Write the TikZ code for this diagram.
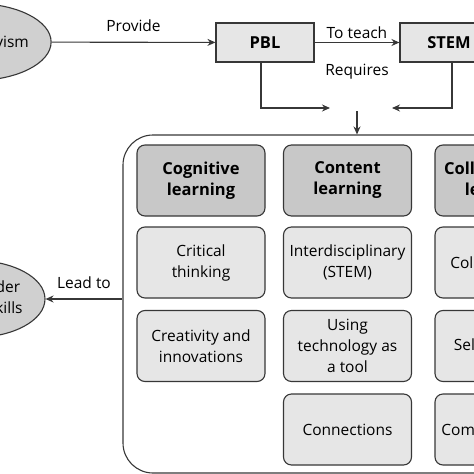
\documentclass[tikz,border=0pt]{standalone}
\usepackage{fontspec}
\setmainfont{Open Sans}
\usepackage{tikz}
\usetikzlibrary{calc,shapes,positioning}
\usetikzlibrary{arrows.meta}
\tikzset{>={Stealth[width=7pt,length=8pt]}}
\definecolor{lineg}{RGB}{55,55,55}
\definecolor{hdrg}{RGB}{200,200,200}
\definecolor{cellg}{RGB}{230,230,230}
\definecolor{ellg}{RGB}{208,208,208}

\begin{document}
\begin{tikzpicture}[x=1pt,y=-1pt,font=\fontsize{15.5}{21}\selectfont]
          \tikzstyle{enode} = [draw=lineg, line width=1.1pt, fill=ellg, ellipse, minimum width=142pt, minimum height=77pt, inner sep=0pt, align=center]
          \tikzstyle{tnode} = [draw=lineg, line width=1.1pt, fill=cellg, rectangle, minimum width=98pt, minimum height=39pt, font=\fontsize{16.5}{21}\selectfont\bfseries]
          \tikzstyle{hdr} = [draw=lineg, line width=1.1pt, fill=hdrg, rectangle, rounded corners=8pt, minimum width=128pt, minimum height=71pt, align=center, font=\fontsize{16.5}{21}\selectfont\bfseries]
          \tikzstyle{cell} = [draw=lineg, line width=1.1pt, fill=cellg, rectangle, rounded corners=8pt, minimum width=128pt, minimum height=71pt, align=center, inner sep=1pt, font=\fontsize{15.5}{21}\selectfont]
          \tikzstyle{link} = [draw=lineg, line width=1.1pt]
          \useasboundingbox (0,0) rectangle (474,474);
          \clip (0,0) rectangle (474,474);

          \node[enode] (cons) at (-25, 42) {Constructivism};
          \node[tnode] (pbl) at (265, 42.5) {PBL};
          \node[tnode] (stem) at (449, 42.5) {STEM};
          \node (req) at (357, 72) {Requires};
          \coordinate (jl) at (330, 108);
          \coordinate (jr) at (392, 108);
          \coordinate (jd) at (357, 111);

          % outer frame
          \node[draw=lineg, line width=1.1pt, rectangle, rounded corners=30pt, minimum width=480pt, minimum height=338pt, inner sep=0pt] (frame) at (363, 304) {};

          \node[hdr] (cog) at (201, 180.5) {Cognitive\\learning};
          \node[hdr] (cont) at (347.5, 180.5) {Content\\learning};
          \node[hdr] (coll) at (499, 180.5) {Collaborative\\learning};
          \node[cell] (crit) at (201, 262.5) {Critical\\thinking};
          \node[cell] (inter) at (347.5, 262.5) {Interdisciplinary\\(STEM)};
          \node[cell] (collab) at (499, 262.5) {Collaboration};
          \node[cell] (crea) at (201, 346) {Creativity and\\innovations};
          \node[cell] (tech) at (347.5, 346) {Using\\technology as\\a tool};
          \node[cell] (self) at (499, 346) {Self-learning};
          \node[cell] (conn) at (347.5, 429.5) {Connections};
          \node[cell] (comm) at (499, 429.5) {Communication};

          \node[enode] (hos) at (-26, 299) {Higher order\\thinking skills};

          \draw[link,->] (cons) -- node[above=7pt] {Provide} (pbl);
          \draw[link,->] (pbl) -- node[above=0pt] {To teach} (stem);
          \draw[link,->] ([xshift=-4pt]pbl.south) |- (jl);
          \draw[link,->] ([xshift=3pt]stem.south) |- (jr);
          \draw[link,->] (jd) -- (jd |- frame.north);
          \draw[link,->] (frame.west |- hos) -- node[above=6pt] {Lead to} (hos);
        \end{tikzpicture}
\end{document}
